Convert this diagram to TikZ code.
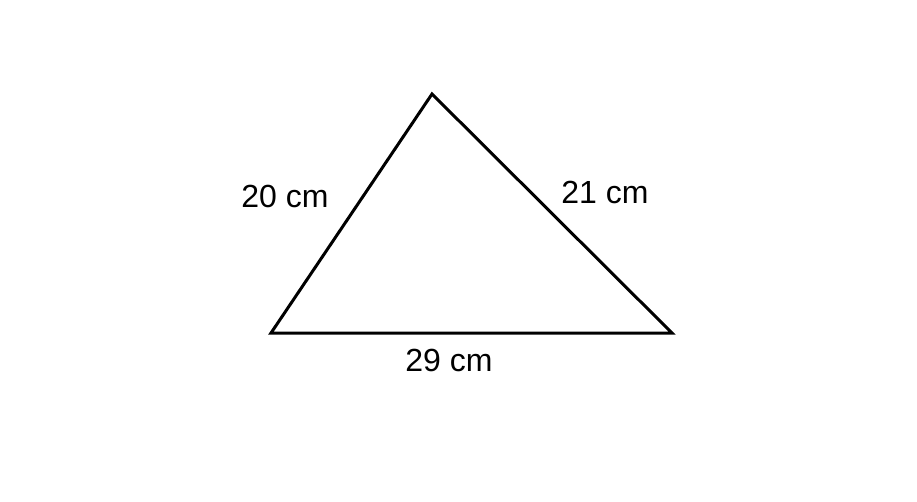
\documentclass[tikz,border=0pt]{standalone}
\usepackage{fontspec}
\setmainfont{Liberation Sans}
\begin{document}
\begin{tikzpicture}[x=1pt,y=-1pt,
  lbl/.style={font=\fontsize{32}{38}\selectfont, inner sep=0pt, anchor=center},
  side/.style={draw=black, line width=3pt, line join=miter}]
\useasboundingbox (0,0) rectangle (917,502);
\coordinate (A) at (432,94);
\coordinate (B) at (271,333);
\coordinate (C) at (672,333);
\draw[side] (A) -- (B) -- (C) -- cycle;
\node[lbl] (l20) at (285,196) {20 cm};
\node[lbl] (l21) at (605,192) {21 cm};
\node[lbl] (l29) at (449,360) {29 cm};
\end{tikzpicture}
\end{document}
